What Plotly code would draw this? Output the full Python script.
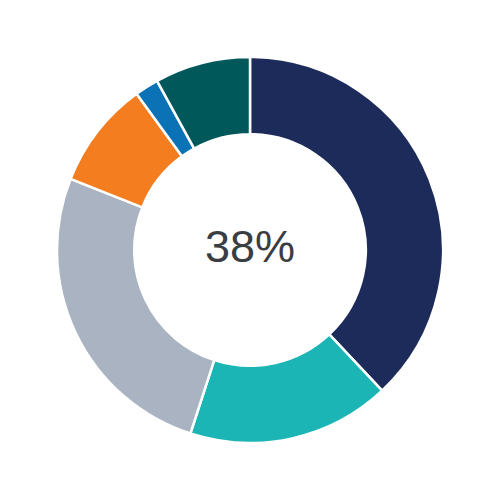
import plotly.graph_objects as go

labels = ["A", "B", "C", "D", "E", "F"]
values = [38, 17, 26, 9, 2, 8]
colors = ["#1c2b5a", "#1bb5b5", "#a9b3c2", "#f47d20", "#0a72b5", "#00585a"]
center_text = "38%"

fig = go.Figure(go.Pie(
    labels=labels, values=values, sort=False, direction="clockwise", rotation=0,
    hole=0.6, textinfo="none", hoverinfo="label+percent",
    marker=dict(colors=colors, line=dict(color="white", width=2.5)),
))
fig.add_annotation(text=center_text, x=0.5, y=0.5, xref="paper", yref="paper", yshift=4,
                   showarrow=False, font=dict(family="Liberation Sans, Arial, sans-serif", size=45, color="#3a3d42"))
fig.update_layout(width=500, height=500, showlegend=False,
                  margin=dict(l=49, r=65, t=49, b=65),
                  paper_bgcolor="white", plot_bgcolor="white")
fig.write_html("out.html")
